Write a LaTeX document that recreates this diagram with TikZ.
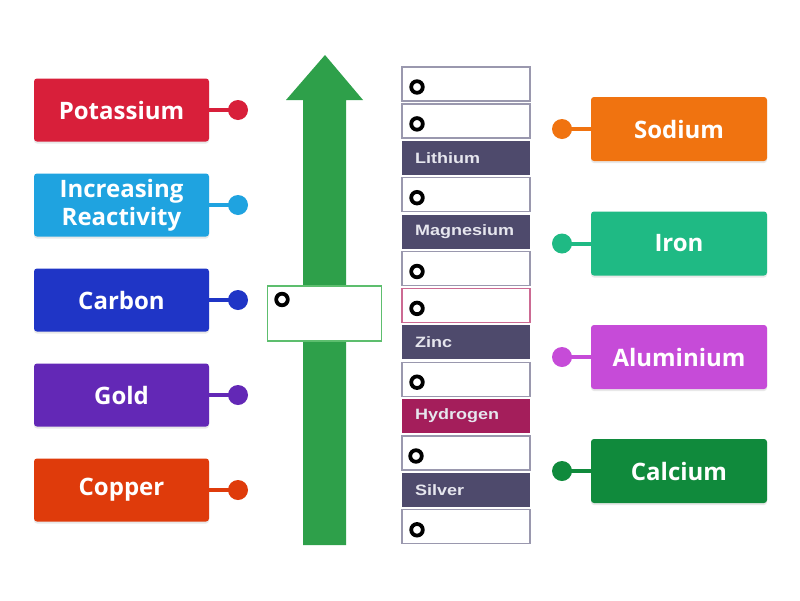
\documentclass[tikz,border=0pt]{standalone}
\usepackage{fontspec}
\setmainfont{Open Sans}
\newfontfamily\slotfont[FakeStretch=1.2]{Liberation Sans}
\usetikzlibrary{shadows}
\definecolor{cPot}{HTML}{D81F3A}
\definecolor{cInc}{HTML}{1FA3E0}
\definecolor{cCar}{HTML}{1F35C6}
\definecolor{cGol}{HTML}{6328B6}
\definecolor{cCop}{HTML}{DF3B0B}
\definecolor{cSod}{HTML}{F07310}
\definecolor{cIro}{HTML}{1FBA84}
\definecolor{cAlu}{HTML}{C64BD8}
\definecolor{cCal}{HTML}{108A3C}
\definecolor{cArr}{HTML}{2EA04A}
\definecolor{cBoxEdge}{HTML}{5DBE6E}
\definecolor{cSlot}{HTML}{9A98AE}
\definecolor{cDark}{HTML}{4E4A6C}
\definecolor{cHyd}{HTML}{A41E5B}
\definecolor{cPink}{HTML}{CC6A93}
\definecolor{cLabTxt}{HTML}{E6E6EE}
\begin{document}
\begin{tikzpicture}[x=1pt,y=-1pt,
  tile/.style={rounded corners=3pt, minimum width=175pt, minimum height=63pt, text=white,
    font=\bfseries\fontsize{24}{28}\selectfont, align=center, inner sep=0pt,
    drop shadow={opacity=0.18, shadow xshift=0pt, shadow yshift=-2pt}},
  dotend/.style={circle, minimum size=20pt, inner sep=0pt},
  conn/.style={line width=4pt},
  slot/.style={rectangle, draw=cSlot, fill=white, line width=1.2pt, minimum width=128pt, minimum height=34pt, inner sep=0pt},
  pinkslot/.style={slot, draw=cPink},
  metal/.style={rectangle, fill=cDark, minimum width=128pt, minimum height=34pt, inner ysep=0pt, inner xsep=13pt,
    text width=102pt, align=left, text=cLabTxt, font=\slotfont\bfseries\fontsize{15}{17}\selectfont},
  hydro/.style={metal, fill=cHyd},
  ringline/.style={draw=black, line width=3.8pt}
]
\useasboundingbox (0,0) rectangle (800,600);
\fill[white] (0,0) rectangle (800,600);

% green arrow
\fill[cArr] (303,545) -- (303,100) -- (286,100) -- (325,55) -- (363,100) -- (346,100) -- (346,545) -- cycle;

% left tiles
\node[tile, fill=cPot] (pot) at (121.5,110) {Potassium};
\node[tile, fill=cInc] (inc) at (121.5,205) {Increasing\\Reactivity};
\node[tile, fill=cCar] (car) at (121.5,300) {Carbon};
\node[tile, fill=cGol] (gol) at (121.5,395) {Gold};
\node[tile, fill=cCop] (cop) at (121.5,490) {Copper};

\node[dotend, fill=cPot] (dpot) at (238,110) {};
\node[dotend, fill=cInc] (dinc) at (238,205) {};
\node[dotend, fill=cCar] (dcar) at (238,300) {};
\node[dotend, fill=cGol] (dgol) at (238,395) {};
\node[dotend, fill=cCop] (dcop) at (238,490) {};
\draw[conn, cPot] (pot.east) -- (dpot.center);
\draw[conn, cInc] (inc.east) -- (dinc.center);
\draw[conn, cCar] (car.east) -- (dcar.center);
\draw[conn, cGol] (gol.east) -- (dgol.center);
\draw[conn, cCop] (cop.east) -- (dcop.center);

% right tiles
\node[tile, fill=cSod, minimum width=176pt, minimum height=64pt] (sod) at (679,129) {Sodium};
\node[tile, fill=cIro, minimum width=176pt, minimum height=64pt] (iro) at (679,243.5) {Iron};
\node[tile, fill=cAlu, minimum width=176pt, minimum height=64pt] (alu) at (679,357) {Aluminium};
\node[tile, fill=cCal, minimum width=176pt, minimum height=64pt] (cal) at (679,471) {Calcium};

\node[dotend, fill=cSod] (dsod) at (562,129) {};
\node[dotend, fill=cIro] (diro) at (562,243.5) {};
\node[dotend, fill=cAlu] (dalu) at (562,357) {};
\node[dotend, fill=cCal] (dcal) at (562,471) {};
\draw[conn, cSod] (sod.west) -- (dsod.center);
\draw[conn, cIro] (iro.west) -- (diro.center);
\draw[conn, cAlu] (alu.west) -- (dalu.center);
\draw[conn, cCal] (cal.west) -- (dcal.center);

% white box on the arrow
\node[rectangle, draw=cBoxEdge, fill=white, line width=1.5pt, minimum width=114pt, minimum height=55pt, inner sep=0pt] (ans) at (324.5,313.5) {};
\draw[ringline] (282,299.5) circle[radius=5.8pt];

% slot column
\node[slot] (s0) at (466,84) {};
\node[slot] (s1) at (466,120.9) {};
\node[metal] (s2) at (466,157.8) {Lithium};
\node[slot] (s3) at (466,194.7) {};
\node[metal] (s4) at (466,231.6) {Magnesium};
\node[slot] (s5) at (466,268.5) {};
\node[pinkslot] (s6) at (466,305.4) {};
\node[metal] (s7) at (466,342.3) {Zinc};
\node[slot] (s8) at (466,379.2) {};
\node[hydro] (s9) at (466,416.1) {Hydrogen};
\node[slot] (s10) at (466,453) {};
\node[metal] (s11) at (466,489.9) {Silver};
\node[slot] (s12) at (466,526.8) {};

\draw[ringline] (417,87) circle[radius=5.8pt];
\draw[ringline] (417,123.9) circle[radius=5.8pt];
\draw[ringline] (417,197.7) circle[radius=5.8pt];
\draw[ringline] (417,271.5) circle[radius=5.8pt];
\draw[ringline] (417,308.4) circle[radius=5.8pt];
\draw[ringline] (417,382.2) circle[radius=5.8pt];
\draw[ringline] (416,456) circle[radius=5.8pt];
\draw[ringline] (417,529.8) circle[radius=5.8pt];
\end{tikzpicture}
\end{document}
